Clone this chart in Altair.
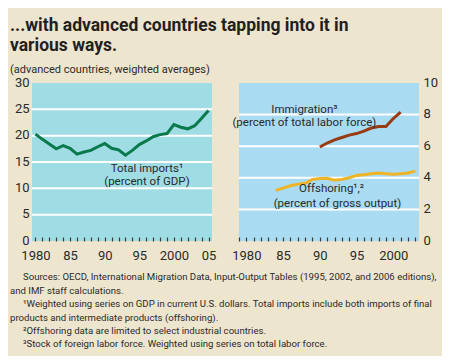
import altair as alt
import pandas as pd

# ---- data ----
imp_years = list(range(1980, 2006))
imp_vals = [20.3, 19.3, 18.4, 17.5, 18.1, 17.6, 16.5, 16.9, 17.2, 17.9, 18.5, 17.6, 17.3,
            16.3, 17.2, 18.3, 19.0, 19.8, 20.2, 20.4, 22.1, 21.6, 21.3, 21.9, 23.3, 24.8]

off_years = list(range(1984, 2004))
off_vals = [3.2, 3.35, 3.5, 3.6, 3.65, 3.9, 3.95, 3.97, 3.85, 3.9, 4.0, 4.15, 4.2, 4.25,
            4.3, 4.25, 4.22, 4.25, 4.3, 4.42]

mig_years = list(range(1990, 2002))
mig_vals = [5.95, 6.2, 6.4, 6.55, 6.7, 6.8, 6.95, 7.15, 7.25, 7.25, 7.75, 8.15]

left_grid = [5, 10, 15, 20, 25]
right_grid = [2, 4, 6, 8]
left_ticks = list(range(1980, 2006))
right_ticks = list(range(1979, 2004))
left_yticks = [0, 5, 10, 15, 20, 25, 30]
right_yticks = [0, 2, 4, 6, 8, 10]

title_lines = ["...with advanced countries tapping into it in", "various ways."]
subtitle = "(advanced countries, weighted averages)"
footnotes = [
    "Sources: OECD, International Migration Data, Input-Output Tables (1995, 2002, and 2006 editions),",
    "and IMF staff calculations.",
    "\u00b9Weighted using series on GDP in current U.S. dollars. Total imports include both imports of final",
    "products and intermediate products (offshoring).",
    "\u00b2Offshoring data are limited to select industrial countries.",
    "\u00b3Stock of foreign labor force. Weighted using series on total labor force.",
]
foot_indent = [True, False, True, False, True, True]

# ---- styles ----
BG = "#EEE5CF"
LEFT_FILL = "#9FDCE4"
RIGHT_FILL = "#A9DBF3"
GREEN = "#0A7A4C"
BROWN = "#983A12"
YELLOW = "#EFB425"
TXT = "#2A2A2A"
FONT = "Roboto"

W, H = 387, 158
LX = alt.Scale(domain=[1979.5, 2005.5], range=[0, 180], nice=False, zero=False)
LY = alt.Scale(domain=[0, 30], range=[H, 0], nice=False)
RX = alt.Scale(domain=[1979, 2003.5], range=[207, W], nice=False, zero=False)
RY = alt.Scale(domain=[0, 10], range=[H, 0], nice=False)

year_label = ("datum.value == 1980 ? '1980' : datum.value == 2000 ? '2000' : "
              "(datum.value % 5 == 0 ? slice(toString(datum.value), 2) : '')")

def xaxis(values):
    return alt.Axis(orient="bottom", values=values, labelExpr=year_label, title=None,
                    domain=False, grid=False, tickSize=4, offset=-4, tickColor="#3a3a3a",
                    tickWidth=1.2, labelPadding=8, labelFontSize=13, labelColor=TXT,
                    labelFont=FONT, labelOverlap=False, labelBound=False, zindex=2)

def yaxis(orient, values, pad):
    return alt.Axis(orient=orient, values=values, title=None, domain=False, ticks=False,
                    grid=False, labelPadding=pad, labelFontSize=13, labelColor=TXT,
                    labelFont=FONT, labelOverlap=False, labelBound=False, labelOffset=-1)

def LXe(f):
    return alt.X(f, scale=LX, axis=xaxis(left_ticks))
def LYe(f):
    return alt.Y(f, scale=LY, axis=yaxis("left", left_yticks, 3))
def RXe(f):
    return alt.X(f, scale=RX, axis=xaxis(right_ticks))
def RYe(f):
    return alt.Y(f, scale=RY, axis=yaxis("right", right_yticks, 4))

# left panel
lrect = alt.Chart(pd.DataFrame({"x": [1979.5], "x2": [2005.5], "y": [0], "y2": [30]})).mark_rect(
    color=LEFT_FILL).encode(x=LXe("x:Q"), x2="x2:Q", y=LYe("y:Q"), y2="y2:Q")
lgrid = alt.Chart(pd.DataFrame({"y": left_grid, "x": 1979.5, "x2": 2005.5})).mark_rule(
    color="white", strokeWidth=2).encode(x=LXe("x:Q"), x2="x2:Q", y=LYe("y:Q"))
lline = alt.Chart(pd.DataFrame({"x": imp_years, "y": imp_vals})).mark_line(
    color=GREEN, strokeWidth=3).encode(x=LXe("x:Q"), y=LYe("y:Q"))
ltext = alt.Chart(pd.DataFrame({"x": [1996.1, 1996.1], "y": [13.7, 11.2],
                                "t": ["Total imports\u00b9", "(percent of GDP)"]})).mark_text(
    font=FONT, fontSize=11.5, color=TXT, align="center", baseline="middle").encode(
    x=LXe("x:Q"), y=LYe("y:Q"), text="t:N")
left = alt.layer(lrect, lgrid, lline, ltext)

# right panel
rrect = alt.Chart(pd.DataFrame({"x": [1979], "x2": [2003.5], "y": [0], "y2": [10]})).mark_rect(
    color=RIGHT_FILL).encode(x=RXe("x:Q"), x2="x2:Q", y=RYe("y:Q"), y2="y2:Q")
rgrid = alt.Chart(pd.DataFrame({"y": right_grid, "x": 1979, "x2": 2003.5})).mark_rule(
    color="white", strokeWidth=2).encode(x=RXe("x:Q"), x2="x2:Q", y=RYe("y:Q"))
rmig = alt.Chart(pd.DataFrame({"x": mig_years, "y": mig_vals})).mark_line(
    color=BROWN, strokeWidth=3).encode(x=RXe("x:Q"), y=RYe("y:Q"))
roff = alt.Chart(pd.DataFrame({"x": off_years, "y": off_vals})).mark_line(
    color=YELLOW, strokeWidth=3).encode(x=RXe("x:Q"), y=RYe("y:Q"))
rtext = alt.Chart(pd.DataFrame({"x": [1987.9, 1987.9, 1991.6, 1992.4], "y": [8.31, 7.47, 3.31, 2.32],
                                "t": ["Immigration\u00b3", "(percent of total labor force)",
                                      "Offshoring\u00b9,\u00b2", "(percent of gross output)"]})).mark_text(
    font=FONT, fontSize=11.5, color=TXT, align="center", baseline="middle").encode(
    x=RXe("x:Q"), y=RYe("y:Q"), text="t:N")
right = alt.layer(rrect, rgrid, rmig, roff, rtext)

# texts outside plot area
ox, oy = 32, 83
texts = []
for i, line in enumerate(title_lines):
    texts.append(alt.Chart(pd.DataFrame({"t": [line]})).mark_text(
        font=FONT, fontSize=17.5, fontWeight="bold", color="#231F20", align="left",
        baseline="alphabetic").encode(x=alt.value(10 - ox), y=alt.value([31, 51][i] - oy), text="t:N"))
texts.append(alt.Chart(pd.DataFrame({"t": [subtitle]})).mark_text(
    font=FONT, fontSize=11, color=TXT, align="left", baseline="alphabetic").encode(
    x=alt.value(10 - ox), y=alt.value(72.5 - oy), text="t:N"))
foot_y = [280, 294, 307, 320.5, 334, 346.5]
for line, ind, fy in zip(footnotes, foot_indent, foot_y):
    texts.append(alt.Chart(pd.DataFrame({"t": [line]})).mark_text(
        font=FONT, fontSize=9.6, color=TXT, align="left", baseline="alphabetic").encode(
        x=alt.value((23 if ind else 10) - ox), y=alt.value(fy - oy), text="t:N"))

chart = alt.layer(left, right, *texts).resolve_scale(x="independent", y="independent").properties(
    width=W, height=H, background=BG,
    autosize=alt.AutoSizeParams(type="none"),
    padding={"left": 24, "top": 75, "right": 434 - 24 - W, "bottom": 348 - 75 - H},
).configure_view(stroke=None)

chart.save("out.html", embed_options={"renderer": "svg", "actions": False})
